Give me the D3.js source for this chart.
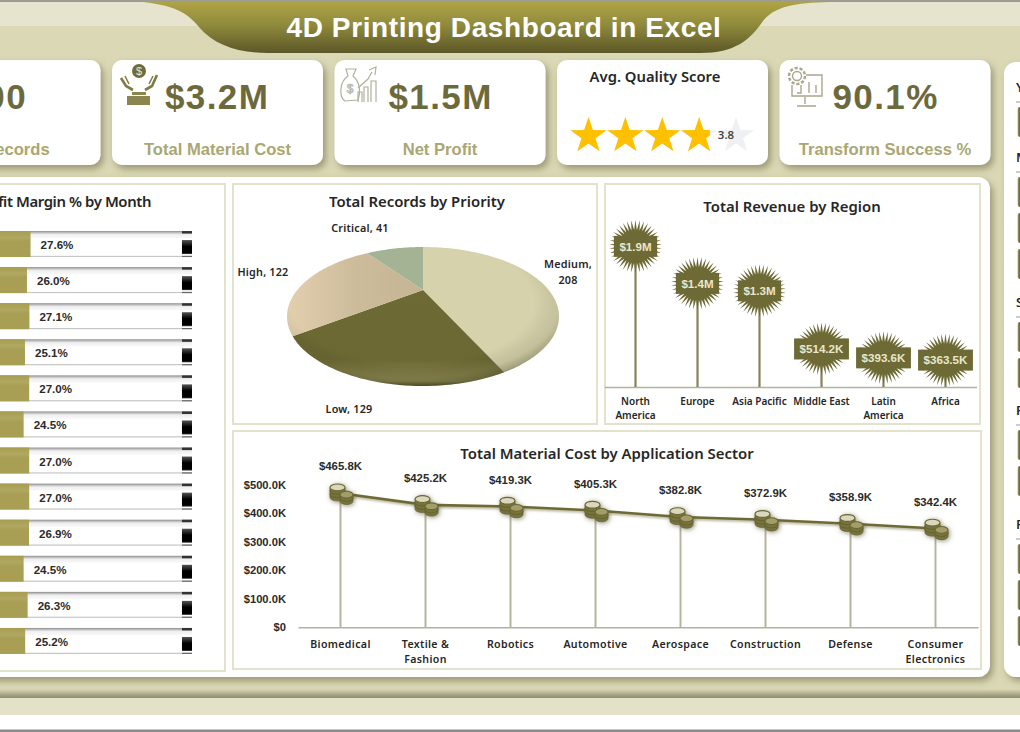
<!DOCTYPE html>
<html>
<head>
<meta charset="utf-8">
<title>4D Printing Dashboard in Excel</title>
<script src="https://cdnjs.cloudflare.com/ajax/libs/d3/7.8.5/d3.min.js"></script>
<style>
  html, body { margin: 0; padding: 0; background: #fff; overflow: hidden; }
  svg { display: block; }
  .hd { font-family: "Noto Sans", sans-serif; font-weight: 600; fill: #262626; }
  .num { font-family: "Liberation Sans", Arial, sans-serif; font-weight: 700; }
</style>
</head>
<body>
<svg id="dash" width="1020" height="732" viewBox="0 0 1020 732"></svg>
<script>
// ---- Dashboard figures ----
const kpiLabels = ["Total Records", "Total Material Cost", "Net Profit", "Avg. Quality Score", "Transform Success %"];
const kpiValues = ["500", "$3.2M", "$1.5M", null, "90.1%"];
const qualityScore = 3.8;
const starSlots = [1, 2, 3, 4, 5];

const months = ["Jan", "Feb", "Mar", "Apr", "May", "Jun", "Jul", "Aug", "Sep", "Oct", "Nov", "Dec"];
const marginPct = [27.6, 26.0, 27.1, 25.1, 27.0, 24.5, 27.0, 27.0, 26.9, 24.5, 26.3, 25.2];

const priorities = ["Medium", "Low", "High", "Critical"];
const priorityRecords = [208, 129, 122, 41];
const priorityColors = ["#D6D3AC", "url(#lowFill)", "url(#highFill)", "#A3B394"];

const regions = ["North America", "Europe", "Asia Pacific", "Middle East", "Latin America", "Africa"];
const regionRevenue = [1900000, 1400000, 1300000, 514200, 393600, 363500];

const sectors = ["Biomedical", "Textile & Fashion", "Robotics", "Automotive", "Aerospace", "Construction", "Defense", "Consumer Electronics"];
const sectorCost = [465800, 425200, 419300, 405300, 382800, 372900, 358900, 342400];
const costTicks = [0, 100000, 200000, 300000, 400000, 500000];

const slicerGroups = ["Y", "M", "S", "P", "F"];
const slicerButtons = [1, 3, 2, 2, 3];

const OLIVE = "#6E6A35";
const svg = d3.select("#dash");
const defs = svg.append("defs");

// ---- Shared gradients and filters ----
function linear(id, stops, x2 = 0, y2 = 1) {
  const g = defs.append("linearGradient").attr("id", id)
    .attr("x1", 0).attr("y1", 0).attr("x2", x2).attr("y2", y2);
  stops.forEach(([o, c, a]) => g.append("stop").attr("offset", o).attr("stop-color", c).attr("stop-opacity", a === undefined ? 1 : a));
}
linear("banner", [[0, "#AFA345"], [0.45, "#8F8A3C"], [1, "#5C5727"]]);
linear("lowFill", [[0, "#6E6A35"], [0.72, "#6C6833"], [0.86, "#7F7B45"], [0.95, "#8A8650"], [1, "#5D5928"]]);
linear("highFill", [[0, "#E2CFAE"], [0.5, "#CDBC9C"], [1, "#C4B492"]], 1, 0);
linear("barFill", [[0, "#A69D50"], [0.25, "#B0A862"], [0.4, "#A89F55"], [1, "#A89F55"]]);
linear("trackTop", [[0, "#8A8A8A"], [0.25, "#C4C4C4"], [0.5, "#F0F0F0"], [1, "#F8F8F8"]]);
linear("endCap", [[0, "#555"], [0.45, "#000"], [0.9, "#000"], [1, "#444"]]);
linear("slicerBtn", [[0, "#C4C29A"], [0.12, "#6E6A35"], [1, "#A8A676"]], 1, 0);
linear("floorShade", [[0, "#8F8D6E", 0], [0.7, "#8F8D6E", 0.75], [1, "#8F8D6E", 1]]);

const shadow = defs.append("filter").attr("id", "cardShadow")
  .attr("x", "-10%").attr("y", "-10%").attr("width", "120%").attr("height", "125%");
shadow.append("feDropShadow").attr("dx", 3).attr("dy", 4).attr("stdDeviation", 3.5)
  .attr("flood-color", "#6F6D48").attr("flood-opacity", 0.6);

const soft = defs.append("filter").attr("id", "coinGlow")
  .attr("x", "-80%").attr("y", "-80%").attr("width", "260%").attr("height", "260%");
soft.append("feDropShadow").attr("dx", 1).attr("dy", 1).attr("stdDeviation", 2.6)
  .attr("flood-color", "#55522f").attr("flood-opacity", 0.65);

const lineSoft = defs.append("filter").attr("id", "lineShadow")
  .attr("x", "-5%").attr("y", "-50%").attr("width", "110%").attr("height", "200%");
lineSoft.append("feDropShadow").attr("dx", 0).attr("dy", 1.5).attr("stdDeviation", 1.2)
  .attr("flood-color", "#8b8860").attr("flood-opacity", 0.7);

// Splits a label over several lines once it exceeds maxWidth
function wrapLabels(selection, maxWidth, lineHeight) {
  selection.each(function (d) {
    const t = d3.select(this);
    const x = +t.attr("x") || 0, y = +t.attr("y") || 0;
    const words = String(d).split(" ");
    t.text(null);
    let line = [], row = 0;
    let span = t.append("tspan").attr("x", x).attr("y", y);
    words.forEach(w => {
      line.push(w);
      span.text(line.join(" "));
      if (span.node().getComputedTextLength() > maxWidth && line.length > 1) {
        line.pop();
        span.text(line.join(" "));
        line = [w];
        row += 1;
        span = t.append("tspan").attr("x", x).attr("y", y + row * lineHeight).text(w);
      }
    });
  });
}

// ---- Page background ----
svg.append("rect").attr("width", 1020).attr("height", 732).attr("fill", "#fff");
svg.append("rect").attr("y", 2).attr("width", 1020).attr("height", 713).attr("fill", "#DAD8B5");
svg.append("rect").attr("y", 2).attr("width", 1020).attr("height", 24).attr("fill", "#E6E4CE");
svg.append("rect").attr("y", 698).attr("width", 1020).attr("height", 17).attr("fill", "#E3E1C8");
svg.append("rect").attr("y", 689).attr("width", 1020).attr("height", 9).attr("fill", "url(#floorShade)");
svg.append("rect").attr("y", 0).attr("width", 1020).attr("height", 2).attr("fill", "#9C9C94");
svg.append("rect").attr("y", 729.5).attr("width", 1020).attr("height", 2.5).attr("fill", "#8A8A8A");

// ---- Title banner ----
svg.append("path")
  .attr("d", "M143,2 C178,6 188,14 199,27 C214,45 238,53 268,53 L700,53 C735,53 750,40 763,21 C775,6 795,3 830,2 Z")
  .attr("fill", "url(#banner)");
svg.append("text").attr("x", 504).attr("y", 37).attr("text-anchor", "middle")
  .attr("class", "num").attr("font-size", 28).attr("letter-spacing", 0.6)
  .attr("fill", "#fff").text("4D Printing Dashboard in Excel");

// ---- KPI cards ----
const cardX = d3.scaleLinear().domain([0, 1]).range([-110.5, 112]);
const cardW = 211;
const cards = svg.append("g").selectAll("g").data(kpiLabels).join("g")
  .attr("transform", (d, i) => `translate(${cardX(i)},60)`);
cards.append("rect").attr("width", cardW).attr("height", 105).attr("rx", 10)
  .attr("fill", "#fff").attr("filter", "url(#cardShadow)");
cards.filter((d, i) => kpiValues[i] !== null).append("text")
  .attr("x", cardW / 2).attr("y", 94.5).attr("text-anchor", "middle")
  .attr("class", "num").attr("font-size", 16.6).attr("fill", "#A9A772").text(d => d);
cards.filter((d, i) => kpiValues[i] !== null).append("text")
  .attr("x", d => [75, 53, 54, 0, 53][kpiLabels.indexOf(d)])
  .attr("y", 49)
  .attr("class", "num").attr("font-size", 35).attr("letter-spacing", 1.4).attr("fill", "#6C6A3C")
  .text(d => kpiValues[kpiLabels.indexOf(d)]);

// Quality score card: heading plus five stars filled up to the score
const qualityCard = cards.filter(d => d === "Avg. Quality Score");
qualityCard.append("text").attr("x", 98).attr("y", 21.5).attr("text-anchor", "middle")
  .attr("class", "hd").attr("font-size", 14.8).attr("fill", "#111").text(d => d);
const starX = d3.scaleLinear().domain([1, 5]).range([31.5, 179]);
const starPath = d3.lineRadial().curve(d3.curveLinearClosed)
  .angle((d, i) => i * Math.PI / 5).radius((d, i) => i % 2 ? 7.4 : 19)(d3.range(10));
const starG = qualityCard.append("g").selectAll("g").data(starSlots).join("g")
  .attr("transform", d => `translate(${starX(d)},76)`);
starG.append("path").attr("d", starPath).attr("fill", "#EFF0F4");
starG.append("clipPath").attr("id", d => `starClip${d}`).append("rect")
  .attr("x", -18).attr("y", -22).attr("height", 44)
  .attr("width", d => 36 * Math.max(0, Math.min(1, qualityScore - (d - 1))));
starG.append("path").attr("d", starPath).attr("fill", "#FFC000")
  .attr("clip-path", d => `url(#starClip${d})`);
qualityCard.append("text").attr("x", 169).attr("y", 78.5).attr("text-anchor", "middle")
  .attr("font-family", "Noto Sans").attr("font-weight", 600).attr("font-size", 11.5).attr("fill", "#444")
  .text(qualityScore.toFixed(1));

// KPI pictograms
const iconA = svg.append("g").attr("fill", "none").attr("stroke", "#7F7B45").attr("stroke-width", 2.6);
iconA.append("circle").attr("cx", 139).attr("cy", 71).attr("r", 7).attr("fill", "#6F6B3A").attr("stroke", "none");
iconA.append("text").attr("x", 139).attr("y", 75).attr("text-anchor", "middle").attr("font-size", 11)
  .attr("font-family", "Liberation Sans").attr("fill", "#E8E6D0").attr("stroke", "none").text("$");
iconA.append("path").attr("d", "M121,78 L126,86 L133,90 M157,75 L152,86 L145,90");
iconA.append("path").attr("d", "M125,76 L129,84 M153,76 L149,84").attr("stroke-width", 1.5);
iconA.append("rect").attr("x", 132).attr("y", 92).attr("width", 14).attr("height", 3).attr("fill", "#8B8650").attr("stroke", "none");
iconA.append("rect").attr("x", 127).attr("y", 96).attr("width", 23).attr("height", 9).attr("fill", "#8B8650").attr("stroke", "none");

const iconB = svg.append("g").attr("fill", "none").attr("stroke", "#B1B09C").attr("stroke-width", 1.2);
iconB.append("path").attr("d", "M346,69 L356,69 L353,76 C360,82 361,92 358,100 L345,101 C339,97 339,82 348,76 Z");
iconB.append("text").attr("x", 350).attr("y", 93).attr("font-size", 12).attr("font-family", "Liberation Sans")
  .attr("text-anchor", "middle").attr("stroke-width", 0.7).text("$");
iconB.append("path").attr("d", "M358,102 V92 H362 V102 M364,102 V87 H368 V102 M371,102 V81 H376 V102");
iconB.append("path").attr("d", "M358,88 L368,79 L372,72 M369,70 L376,67 L375,75");

const iconC = svg.append("g").attr("fill", "none").attr("stroke", "#A9A78C").attr("stroke-width", 1.4);
iconC.append("circle").attr("cx", 797).attr("cy", 76).attr("r", 4.5);
iconC.append("circle").attr("cx", 797).attr("cy", 76).attr("r", 8).attr("stroke-dasharray", "3.2 1.8").attr("stroke-width", 2.4);
iconC.append("path").attr("d", "M806,75 H822 V96 H792 V85");
iconC.append("path").attr("d", "M801,85 V93 H797 M809,82 V93 M816,85 V93");
iconC.append("path").attr("d", "M805,97 V104 M797,106 H816");

// ---- Slicer rail ----
svg.append("rect").attr("x", 1004).attr("y", 62).attr("width", 40).attr("height", 615).attr("rx", 12)
  .attr("fill", "#fff").attr("filter", "url(#cardShadow)");
const railHeadY = d3.scaleOrdinal().domain(slicerGroups).range([92, 162, 307, 415, 529]);
const slicers = svg.append("g").selectAll("g").data(slicerGroups).join("g")
  .attr("transform", d => `translate(1016,${railHeadY(d)})`);
slicers.append("text").attr("class", "hd").attr("font-size", 13).attr("fill", "#222").text(d => d);
slicers.append("line").attr("x1", 0).attr("x2", 10).attr("y1", 10).attr("y2", 10).attr("stroke", "#999");
slicers.selectAll("rect").data((d, i) => d3.range(slicerButtons[i])).join("rect")
  .attr("x", 1.5).attr("y", i => 15 + i * 36).attr("width", 12).attr("height", 30).attr("rx", 3)
  .attr("fill", "url(#slicerBtn)");

// ---- Main canvas and chart frames ----
svg.append("rect").attr("x", -20).attr("y", 177).attr("width", 1010).attr("height", 500).attr("rx", 12)
  .attr("fill", "#fff").attr("filter", "url(#cardShadow)");
function frame(x, y, w, h) {
  svg.append("rect").attr("x", x).attr("y", y).attr("width", w).attr("height", h)
    .attr("fill", "#fff").attr("stroke", "#E3E2CD").attr("stroke-width", 2);
}
frame(-10, 184, 235, 487);
frame(233, 184, 364, 240);
frame(605, 184, 375, 240);
frame(233, 431, 748, 238);

function chartTitle(text, x, y, anchor = "middle", spacing = 0) {
  svg.append("text").attr("x", x).attr("y", y).attr("text-anchor", anchor)
    .attr("letter-spacing", spacing)
    .attr("class", "hd").attr("font-size", 14.9).attr("fill", "#1f1f1f").text(text);
}

// ---- Profit margin bars ----
chartTitle("Profit Margin % by Month", 151, 207, "end", -0.4);
const marginX = d3.scaleLinear().domain([0, 100]).range([-31, 192]);
const marginY = d3.scaleBand().domain(months).range([226, 659]).paddingInner(0.28).paddingOuter(0.14);
const rowH = marginY.bandwidth();
const rows = svg.append("g").selectAll("g").data(months).join("g")
  .attr("transform", d => `translate(0,${marginY(d)})`);
rows.append("rect").attr("x", marginX(0)).attr("y", 0).attr("width", marginX(100) - marginX(0)).attr("height", 7).attr("fill", "url(#trackTop)");
rows.append("rect").attr("x", marginX(0)).attr("y", rowH - 1.2).attr("width", marginX(100) - marginX(0)).attr("height", 1.2).attr("fill", "#C6C6C6");
rows.append("rect").attr("x", marginX(95.5)).attr("y", 0).attr("width", marginX(100) - marginX(95.5)).attr("height", 2.5).attr("fill", "#333");
rows.append("rect").attr("x", marginX(95.5)).attr("y", 9).attr("width", marginX(100) - marginX(95.5)).attr("height", 14).attr("fill", "url(#endCap)");
rows.append("rect").attr("x", marginX(95.5)).attr("y", rowH - 1.2).attr("width", marginX(100) - marginX(95.5)).attr("height", 1.2).attr("fill", "#666");
rows.append("rect").attr("x", marginX(0)).attr("y", 0)
  .attr("width", (d, i) => marginX(marginPct[i]) - marginX(0)).attr("height", rowH).attr("fill", "url(#barFill)");
rows.append("text").attr("x", (d, i) => marginX(marginPct[i]) + 10).attr("y", 18)
  .attr("class", "num").attr("font-size", 11.6).attr("fill", "#2b2b2b")
  .text((d, i) => marginPct[i].toFixed(1) + "%");

// ---- Priority pie, drawn on a tilted plane ----
chartTitle("Total Records by Priority", 417, 207);
const pieArcs = d3.pie().sort(null).value(d => d)(priorityRecords);
const disc = { cx: 423, top: 247, bottom: 386, rx: 136, apexY: 290, tilt: 0.2 };
const discRy = (disc.bottom - disc.top) / 2;
const discA = disc.rx * Math.sqrt(1 - disc.tilt ** 2);
const discB = discRy * (1 - disc.tilt ** 2);
const discCy = disc.top + discRy * (1 - disc.tilt);
function rimPoint(a) {
  const u = Math.sin(a), v = Math.cos(a), w = 1 + disc.tilt * v;
  return [disc.cx + discA * u / w, discCy - discB * v / w];
}
function slicePath(d) {
  const n = Math.ceil((d.endAngle - d.startAngle) / 0.02);
  const rim = d3.range(n + 1).map(i => rimPoint(d.startAngle + (d.endAngle - d.startAngle) * i / n));
  return d3.line()([[disc.cx, disc.apexY], ...rim]) + "Z";
}
const rimShade = defs.append("radialGradient").attr("id", "rimShade")
  .attr("cx", 0.46).attr("cy", 0.4).attr("r", 0.62);
[[0, "#000", 0], [0.72, "#000", 0], [0.88, "#3a3a20", 0.12], [1, "#2c2c18", 0.42]].forEach(([o, c, a]) =>
  rimShade.append("stop").attr("offset", o).attr("stop-color", c).attr("stop-opacity", a));

const pieG = svg.append("g");
pieG.selectAll("path").data(pieArcs).join("path")
  .attr("d", slicePath).attr("fill", (d, i) => priorityColors[i]);
const ellipseCy = (disc.top + disc.bottom) / 2;
pieG.append("ellipse").attr("cx", disc.cx).attr("cy", ellipseCy).attr("rx", disc.rx).attr("ry", discRy)
  .attr("fill", "url(#rimShade)");

const pieLabelAnchors = [[568, 268], [349, 413], [263, 276], [360, 232]];
svg.append("g").selectAll("text").data(priorities).join("text")
  .attr("text-anchor", "middle").attr("class", "hd").attr("font-size", 10.8).attr("fill", "#333")
  .attr("letter-spacing", 0.2)
  .each(function (d, i) {
    const t = d3.select(this), [x, y] = pieLabelAnchors[i];
    const label = `${d}, ${priorityRecords[i]}`;
    if (d === "Medium") {
      t.append("tspan").attr("x", x).attr("y", y).text(`${d},`);
      t.append("tspan").attr("x", x).attr("y", y + 16).text(priorityRecords[i]);
    } else {
      t.append("tspan").attr("x", x).attr("y", y).text(label);
    }
  });

// ---- Revenue by region: starburst lollipops ----
chartTitle("Total Revenue by Region", 792, 212);
const regionX = d3.scaleBand().domain(regions).range([604.5, 976.5]);
const regionY = d3.scaleLinear().domain([0, 2000000]).range([387, 239]);
const money = v => v >= 1e6 ? `$${(v / 1e6).toFixed(1)}M` : v > 0 ? `$${(v / 1e3).toFixed(1)}K` : "$0";

const regionAxis = svg.append("g").attr("transform", "translate(0,387)")
  .call(d3.axisBottom(regionX).tickSize(0).tickPadding(9));
regionAxis.select(".domain").attr("stroke", "#B3B29B").attr("stroke-width", 1.6);
regionAxis.selectAll("text").attr("class", "hd").attr("font-size", 10).attr("fill", "#333")
  .attr("font-family", null).attr("dy", null).attr("y", 18)
  .call(wrapLabels, 58, 13.5);

const burstCount = 76;
const burst = d3.lineRadial().curve(d3.curveLinearClosed)
  .angle((d, i) => i * Math.PI / (burstCount / 2))
  .radius((d, i) => i % 2 ? 16.5 : 26.5)(d3.range(burstCount));
const lollipops = svg.append("g").selectAll("g").data(regions).join("g");
lollipops.append("line")
  .attr("x1", d => regionX(d) + regionX.bandwidth() / 2).attr("x2", d => regionX(d) + regionX.bandwidth() / 2)
  .attr("y1", (d, i) => regionY(regionRevenue[i])).attr("y2", regionY(0))
  .attr("stroke", "#85825C").attr("stroke-width", 2.2);
lollipops.append("path").attr("d", burst).attr("fill", OLIVE)
  .attr("transform", (d, i) => `translate(${regionX(d) + regionX.bandwidth() / 2},${regionY(regionRevenue[i])})`);
const burstLabels = lollipops.append("text")
  .attr("x", d => regionX(d) + regionX.bandwidth() / 2)
  .attr("y", (d, i) => regionY(regionRevenue[i]) + 4.3)
  .attr("text-anchor", "middle").attr("class", "num").attr("font-size", 11.6).attr("fill", "#E9E7CB")
  .text((d, i) => money(regionRevenue[i]));
lollipops.insert("rect", "text")
  .attr("height", 21).attr("fill", OLIVE)
  .attr("y", (d, i) => regionY(regionRevenue[i]) - 10.5)
  .each(function (d, i) {
    const w = burstLabels.nodes()[i].getComputedTextLength() + 11;
    d3.select(this).attr("width", w).attr("x", regionX(d) + regionX.bandwidth() / 2 - w / 2);
  });

// ---- Material cost by sector: line with drop stems and coin markers ----
chartTitle("Total Material Cost by Application Sector", 607, 459);
const sectorX = d3.scaleBand().domain(sectors).range([298, 978]);
const costY = d3.scaleLinear().domain([0, 500000]).range([627.3, 484.5]);
const sx = d => sectorX(d) + sectorX.bandwidth() / 2;

const yAxis = svg.append("g").attr("transform", "translate(288,0)")
  .call(d3.axisLeft(costY).tickValues(costTicks).tickSize(0).tickPadding(2)
    .tickFormat(v => v === 0 ? "$0" : `$${(v / 1e3).toFixed(1)}K`));
yAxis.select(".domain").remove();
yAxis.selectAll("text").attr("class", "num").attr("font-size", 11.2).attr("fill", "#2b2b2b").attr("font-family", null);

const xAxis = svg.append("g").attr("transform", "translate(0,627.3)")
  .call(d3.axisBottom(sectorX).tickSize(0));
xAxis.select(".domain").attr("stroke", "#B3B29B").attr("stroke-width", 1.6);
xAxis.selectAll("text").attr("class", "hd").attr("font-size", 10.6).attr("fill", "#333")
  .attr("font-family", null).attr("dy", null).attr("y", 21).attr("letter-spacing", 0.35)
  .call(wrapLabels, 72, 15);

svg.append("g").selectAll("line").data(sectors).join("line")
  .attr("x1", sx).attr("x2", sx)
  .attr("y1", (d, i) => costY(sectorCost[i])).attr("y2", costY(0))
  .attr("stroke", "#B5B49E").attr("stroke-width", 2);

svg.append("path")
  .attr("d", d3.line().x(d => sx(d)).y((d, i) => costY(sectorCost[i]) - 1)(sectors))
  .attr("fill", "none").attr("stroke", OLIVE).attr("stroke-width", 2.6).attr("filter", "url(#lineShadow)");

// Coin stack marker
function coinStack(g, x, y, n, rx, spacing, topFill) {
  const ry = 3.4;
  d3.range(n).forEach(k => {
    const cy = y - k * spacing;
    g.append("path")
      .attr("d", `M${x - rx},${cy} v3.2 a${rx},${ry} 0 0 0 ${2 * rx},0 v-3.2 Z`)
      .attr("fill", "#77733C").attr("stroke", "#645F2E").attr("stroke-width", 0.7);
    g.append("ellipse").attr("cx", x).attr("cy", cy).attr("rx", rx).attr("ry", ry)
      .attr("fill", k === n - 1 ? topFill : "#8E8A52").attr("stroke", "#6C6835").attr("stroke-width", 1.1);
  });
}
const coins = svg.append("g").selectAll("g").data(sectors).join("g")
  .attr("transform", (d, i) => `translate(${sx(d)},${costY(sectorCost[i])})`)
  .attr("filter", "url(#coinGlow)");
coins.each(function () {
  const g = d3.select(this);
  coinStack(g, -3, 0, 3, 7.5, 3.4, "#DAD7BC");
  coinStack(g, 6, 3.6, 2, 6.5, 3.2, "#A39E68");
});

svg.append("g").selectAll("text").data(sectors).join("text")
  .attr("x", sx).attr("y", (d, i) => costY(sectorCost[i]) - 24)
  .attr("text-anchor", "middle").attr("class", "num").attr("font-size", 11.4).attr("fill", "#2b2b2b")
  .text((d, i) => money(sectorCost[i]));
</script>
</body>
</html>
